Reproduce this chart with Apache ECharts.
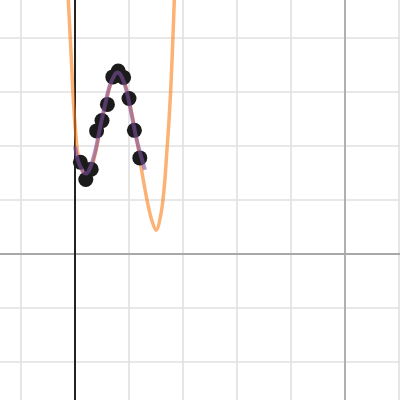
<!DOCTYPE html>
<html>
<head>
<meta charset="utf-8">
<script src="https://cdn.jsdelivr.net/npm/echarts@6/dist/echarts.min.js"></script>
<style>html,body{margin:0;padding:0;background:#fff}#c{width:400px;height:400px}</style>
</head>
<body>
<div id="c"></div>
<script>
// Data points (x, y)
var pointsX = [0.1, 0.2, 0.3, 0.4, 0.5, 0.6, 0.7, 0.8, 0.9, 1.0, 1.1, 1.2];
var pointsY = [6.70, 6.38, 6.57, 7.28, 7.47, 7.77, 8.28, 8.39, 8.27, 7.88, 7.29, 6.78];

// Orange curve
var orangeX = [-0.152, -0.124, -0.093, -0.061, -0.031, 0.013, 0.043, 0.106, 0.204, 0.278, 0.370, 0.463, 0.556, 0.648, 0.741, 0.783, 0.865, 0.957, 1.050, 1.143, 1.204, 1.265, 1.346, 1.420, 1.500, 1.593, 1.654, 1.698, 1.741, 1.778, 1.809, 1.839, 1.861];
var orangeY = [10.26, 9.70, 9.09, 8.47, 7.85, 7.24, 6.93, 6.62, 6.45, 6.52, 6.83, 7.30, 7.74, 8.11, 8.33, 8.38, 8.31, 8.04, 7.61, 7.13, 6.74, 6.37, 5.94, 5.63, 5.44, 5.75, 6.25, 6.86, 7.48, 8.16, 8.90, 9.70, 10.26];

// Purple curve
var purpleX = [0.0, 0.061, 0.154, 0.204, 0.278, 0.370, 0.463, 0.556, 0.648, 0.741, 0.783, 0.865, 0.957, 1.050, 1.143, 1.235, 1.296];
var purpleY = [6.99, 6.71, 6.52, 6.49, 6.59, 6.89, 7.33, 7.76, 8.13, 8.33, 8.36, 8.28, 8.01, 7.57, 7.11, 6.77, 6.56];

// Visible window and grid lines
var xRange = [-1.3889, 6.0185];
var yRange = [2.2963, 9.7037];
var minorX = [-1, 1, 2, 3, 4, 6];
var minorY = [3, 4, 6, 7, 8, 9];
var majorX = [5];
var majorY = [5];
var axisX = [0];

function zip(a, b) { return a.map(function (v, i) { return [v, b[i]]; }); }
function vline(v, c, w) {
  return {type: 'line', silent: true, showSymbol: false, z: 1, animation: false,
    data: [[v, yRange[0]], [v, yRange[1]]], lineStyle: {color: c, width: w}};
}
function hline(v, c, w) {
  return {type: 'line', silent: true, showSymbol: false, z: 1, animation: false,
    data: [[xRange[0], v], [xRange[1], v]], lineStyle: {color: c, width: w}};
}

var gridSeries = []
  .concat(minorX.map(function (v) { return vline(v, '#e0e0e0', 1.6); }))
  .concat(minorY.map(function (v) { return hline(v, '#e0e0e0', 1.6); }))
  .concat(majorX.map(function (v) { return vline(v, '#a8a8a8', 1.8); }))
  .concat(majorY.map(function (v) { return hline(v, '#a8a8a8', 1.8); }))
  .concat(axisX.map(function (v) { return vline(v, '#222222', 2); }));

var chart = echarts.init(document.getElementById('c'), null, {renderer: 'canvas'});
chart.setOption({
  animation: false,
  backgroundColor: '#ffffff',
  grid: {left: 0, right: 0, top: 0, bottom: 0, containLabel: false},
  xAxis: {type: 'value', min: xRange[0], max: xRange[1],
    axisLine: {show: false}, axisTick: {show: false}, axisLabel: {show: false}, splitLine: {show: false}},
  yAxis: {type: 'value', min: yRange[0], max: yRange[1],
    axisLine: {show: false}, axisTick: {show: false}, axisLabel: {show: false}, splitLine: {show: false}},
  series: gridSeries.concat([
    {type: 'line', data: zip(orangeX, orangeY), smooth: 0.35, showSymbol: false, clip: true,
      lineStyle: {color: 'rgba(250,126,25,0.6)', width: 3.5}, z: 3},
    {type: 'scatter', data: zip(pointsX, pointsY), symbolSize: 15,
      itemStyle: {color: '#1b1b1b', opacity: 1}, z: 4},
    {type: 'line', data: zip(purpleX, purpleY), smooth: 0.35, showSymbol: false,
      lineStyle: {color: 'rgba(125,80,160,0.6)', width: 4}, z: 5}
  ])
});
</script>
</body>
</html>
